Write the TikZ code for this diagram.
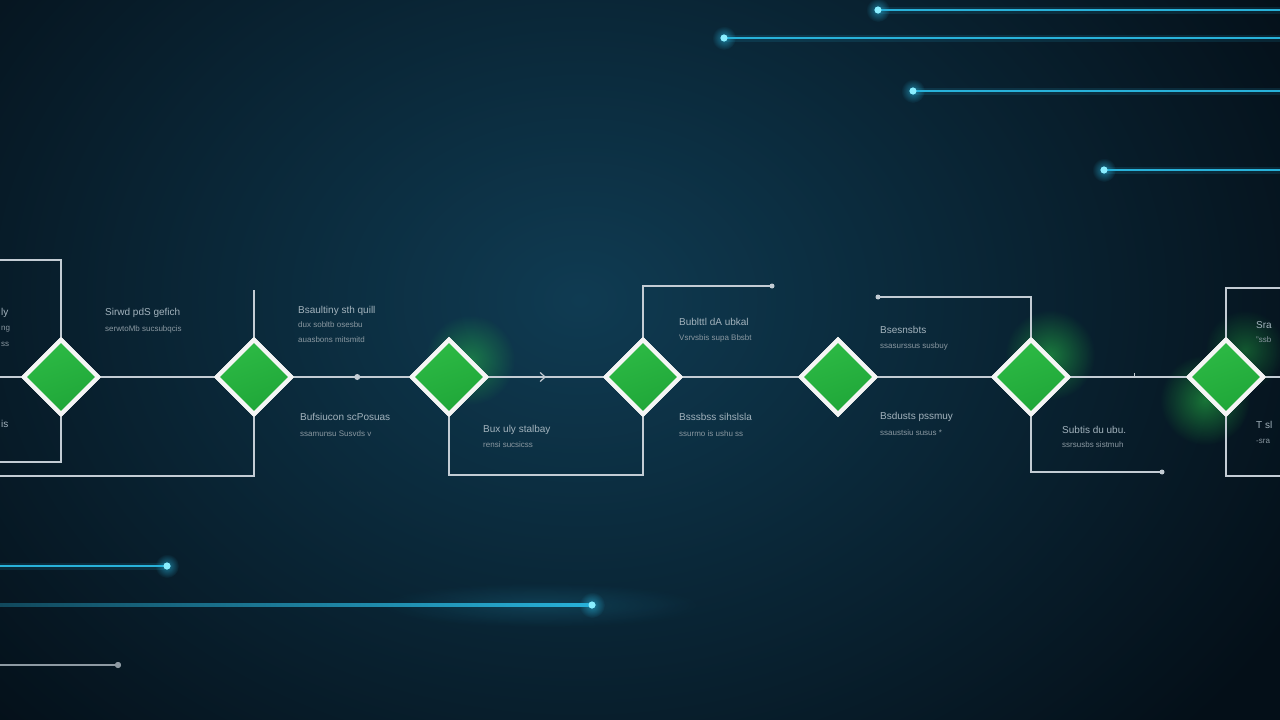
\documentclass[tikz,border=0pt]{standalone}
\usepackage{fontspec}
\setmainfont{Liberation Sans}
\usetikzlibrary{shapes.geometric,decorations.markings,arrows.meta,fadings}
\definecolor{bgbase}{HTML}{040F18}
\definecolor{bgin}{HTML}{0F3B52}
\definecolor{wirec}{HTML}{C3CCD4}
\definecolor{cyanl}{HTML}{28B2DA}
\definecolor{cyand}{HTML}{8AEEFF}
\definecolor{gfill}{HTML}{1FA638}
\definecolor{gfill2}{HTML}{2DBA45}
\definecolor{glowg}{HTML}{2BD14A}
\definecolor{txtc}{HTML}{A3B3BD}
\definecolor{greyl}{HTML}{8E9AA3}
\tikzfading[name=softglow, inner color=transparent!0, outer color=transparent!100]
\begin{document}
\begin{tikzpicture}[x=1pt,y=-1pt,
  dia/.style={diamond,draw=white!92!gray,line width=4.2pt,top color=gfill2,bottom color=gfill,shading angle=20,minimum width=76pt,minimum height=76pt,inner sep=0pt,aspect=1},
  wire/.style={draw=wirec,line width=1.8pt},
  lab/.style={anchor=west,text=txtc,font=\fontsize{10}{11}\selectfont,inner sep=0pt},
  sub/.style={anchor=west,text=txtc!85!black,font=\fontsize{8}{9}\selectfont,inner sep=0pt},
  beam/.style={draw=cyanl,line width=2.2pt},
  beamglow/.style={draw=cyanl,line width=7pt,opacity=0.13},
  bdot/.style={circle,fill=cyand,inner sep=0pt,minimum size=7pt},
  wdot/.style={circle,fill=wirec,inner sep=0pt,minimum size=6pt},
  glow/.style={path fading=softglow},
  midarrow/.style={postaction={decorate},decoration={markings,mark=at position 0.5 with {\arrow[wirec,line width=1.2pt]{Straight Barb[length=5pt,width=9pt]}}}},
  middot/.style={postaction={decorate},decoration={markings,mark=at position 0.55 with {\fill[wirec] (0,0) circle (3pt);}}},
  midtick/.style={postaction={decorate},decoration={markings,mark=at position 0.55 with {\draw[wirec,line width=1.2pt] (0,0) -- (0,4pt);}}}
]
\useasboundingbox (0,0) rectangle (1280,720);
\clip (0,0) rectangle (1280,720);
% background
\fill[bgbase] (0,0) rectangle (1280,720);
\shade[inner color=bgin,outer color=bgbase] (580,300) ellipse (820 and 640);

% ---------- cyan beams ----------
\node[bdot] (b1) at (878,10) {};
\node[bdot] (b2) at (724,38) {};
\node[bdot] (b3) at (913,91) {};
\node[bdot] (b4) at (1104,170) {};
\node[bdot] (b5) at (167,566) {};
\node[bdot] (b6) at (592,605) {};
\node[wdot,fill=greyl] (b7) at (118,665) {};
\coordinate (e1) at (1280,10);
\coordinate (e2) at (1280,38);
\coordinate (e3) at (1280,91);
\coordinate (e4) at (1280,170);
\coordinate (e5) at (0,566);
\coordinate (e6) at (0,605);
\coordinate (e7) at (0,665);
\foreach \a/\b in {b1/e1,b2/e2,b3/e3,b4/e4,b5/e5}{
  \draw[beamglow] (\a.center) -- (\b);
  \fill[cyanl,opacity=0.6,glow] (\a.center) circle (12pt);
  \draw[beam] (\a.center) -- (\b);
  \node[bdot] at (\a) {};
}
\fill[cyanl,opacity=0.18,glow] (540,605) ellipse (160pt and 22pt);
\shade[left color=cyanl!35!bgbase,right color=cyanl] (0,603.8) rectangle (592,606.2);
\fill[cyanl,opacity=0.6,glow] (b6.center) circle (13pt);
\node[bdot] at (b6) {};
\draw[draw=greyl,line width=2.4pt] (b7.center) -- (e7);
\node[wdot,fill=greyl] at (b7) {};

% ---------- glows behind some diamonds ----------
\fill[glowg,opacity=0.45,glow] (470,360) circle (45pt);
\fill[glowg,opacity=0.5,glow] (1050,355) circle (45pt);
\fill[glowg,opacity=0.5,glow] (1205,400) circle (45pt);
\fill[glowg,opacity=0.35,glow] (1245,350) circle (40pt);

% ---------- diamonds ----------
\node[dia] (d1) at (61,377) {};
\node[dia] (d2) at (254,377) {};
\node[dia] (d3) at (449,377) {};
\node[dia] (d4) at (643,377) {};
\node[dia] (d5) at (838,377) {};
\node[dia] (d6) at (1031,377) {};
\node[dia] (d7) at (1226,377) {};

% ---------- wiring ----------
\coordinate (l0) at (0,377);
\coordinate (r0) at (1280,377);
\coordinate (c1t) at (0,260);
\coordinate (c1b) at (0,462);
\coordinate (c2t) at (254,290);
\coordinate (c2b) at (0,476);
\coordinate (c3b) at (449,475);
\node[wdot,minimum size=5pt] (p4) at (772,286) {};
\node[wdot,minimum size=5pt] (p5) at (878,297) {};
\node[wdot,minimum size=5pt] (p6) at (1162,472) {};
\coordinate (c7t) at (1280,288);
\coordinate (c7b) at (1280,476);

\draw[wire] (l0) -- (d1.west);
\draw[wire] (d1.east) -- (d2.west);
\draw[wire,middot] (d2.east) -- (d3.west);
\draw[wire,midarrow] (d3.east) -- (d4.west);
\draw[wire] (d4.east) -- (d5.west);
\draw[wire] (d5.east) -- (d6.west);
\draw[wire,midtick] (d6.east) -- (d7.west);
\draw[wire] (d7.east) -- (r0);

\draw[wire] (d1.north) |- (c1t);
\draw[wire] (d1.south) |- (c1b);
\draw[wire] (d2.north) -- (c2t);
\draw[wire] (d2.south) |- (c2b);
\draw[wire] (d3.south) -- (c3b) -| (d4.south);
\draw[wire] (d4.north) |- (p4.center);
\draw[wire] (p5.center) -| (d6.north);
\draw[wire] (d6.south) |- (p6.center);
\draw[wire] (d7.north) |- (c7t);
\draw[wire] (d7.south) |- (c7b);

% redraw diamonds above wiring
\foreach \n in {d1,d2,d3,d4,d5,d6,d7}{
  \node[dia] at (\n) {};
}

% ---------- labels ----------
\node[lab] (t0a) at (1,313) {ly};
\node[sub] (t0b) at (1,329) {ng};
\node[sub] (t0c) at (1,344) {ss};
\node[lab] (t0d) at (1,424) {is};

\node[lab] (t1a) at (105,313) {Sirwd pdS  gefich};
\node[sub] (t1b) at (105,329) {serwtoMb  sucsubqcis};

\node[lab] (t2a) at (298,311) {Bsaultiny  sth quill};
\node[sub] (t2b) at (298,325) {dux sobltb osesbu};
\node[sub] (t2c) at (298,340) {auasbons mitsmitd};
\node[lab] (t2d) at (300,417) {Bufsiucon  scPosuas};
\node[sub] (t2e) at (300,434) {ssamunsu  Susvds  v};

\node[lab] (t3a) at (483,430) {Bux  uly  stalbay};
\node[sub] (t3b) at (483,445) {rensi sucsicss};

\node[lab] (t4a) at (679,322) {Bublttl  dA  ubkal};
\node[sub] (t4b) at (679,338) {Vsrvsbis  supa  Bbsbt};
\node[lab] (t4c) at (679,417) {Bsssbss  sihslsla};
\node[sub] (t4d) at (679,434) {ssurmo is ushu ss};

\node[lab] (t5a) at (880,330) {Bsesnsbts};
\node[sub] (t5b) at (880,346) {ssasurssus  susbuy};
\node[lab] (t5c) at (880,417) {Bsdusts  pssmuy};
\node[sub] (t5d) at (880,433) {ssaustsiu  susus  *};

\node[lab] (t6a) at (1062,430) {Subtis  du  ubu.};
\node[sub] (t6b) at (1062,445) {ssrsusbs  sistmuh};

\node[lab] (t7a) at (1256,325) {Sra};
\node[sub] (t7b) at (1256,340) {"ssb};
\node[lab] (t7c) at (1256,425) {T sl};
\node[sub] (t7d) at (1256,441) {-sra};
\end{tikzpicture}
\end{document}
